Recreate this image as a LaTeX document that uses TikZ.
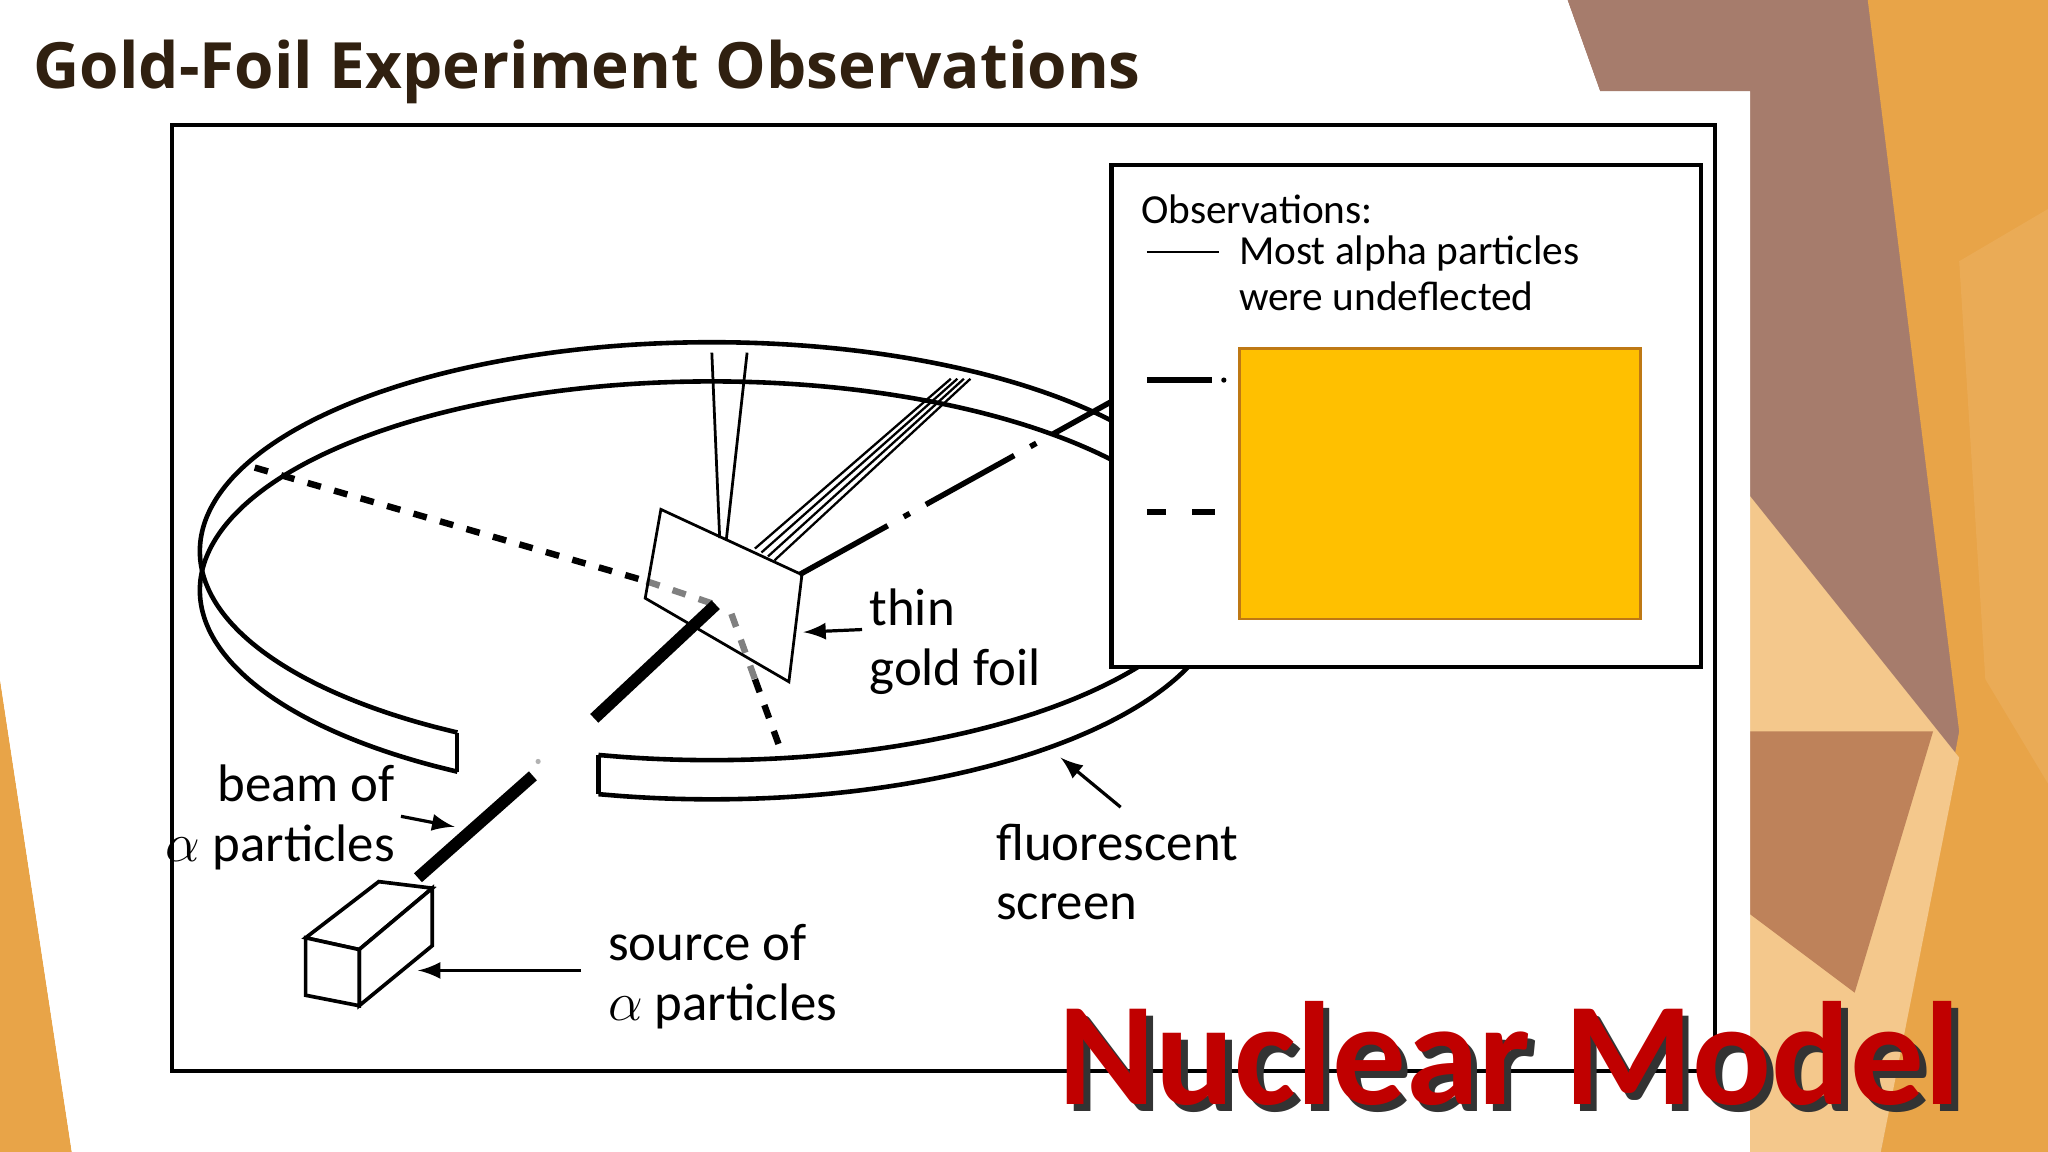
\documentclass[tikz,border=0pt]{standalone}
\usepackage{fontspec}
\setmainfont{Carlito}
\newfontfamily\titlefont{Open Sans}
\definecolor{bgbrown}{RGB}{166,124,108}
\definecolor{bgorange}{RGB}{232,164,72}
\definecolor{bglight}{RGB}{244,200,140}
\definecolor{bgdark}{RGB}{190,130,90}
\begin{document}
\begin{tikzpicture}[x=0.01cm,y=-0.01cm,
  lbl/.style={font=\fontsize{11.5}{13}\selectfont,align=left,inner sep=0},
  obs/.style={font=\fontsize{9}{10}\selectfont,anchor=west,inner sep=0},
  ring/.style={line width=1pt},
  arr/.style={-latex,line width=0.7pt}]
\useasboundingbox (0,0) rectangle (1568,882);
\fill[white] (0,0) rectangle (1568,882);
% background decoration
\fill[bgbrown] (1200,0)--(1568,0)--(1568,882)--(1340,882)--(1340,70)--(1225,70)--cycle;
\fill[bgorange] (1430,0)--(1568,0)--(1568,882)--(1440,882)--(1500,560)--cycle;
\fill[bglight] (1340,380)--(1500,580)--(1440,882)--(1340,882)--cycle;
\fill[bgdark] (1340,560)--(1480,560)--(1420,760)--(1340,700)--cycle;
\fill[bgorange!80!bglight] (1500,200)--(1568,160)--(1568,600)--(1520,520)--cycle;
\fill[bgorange] (0,520)--(55,882)--(0,882)--cycle;
\fill[bgbrown] (1150,842)--(1340,842)--(1340,882)--(1150,882)--cycle;
\fill[white] (0,0)--(1200,0)--(1225,70)--(1340,70)--(1340,842)--(55,882)--(55,882)--(0,520)--cycle;
\fill[white] (55,842) rectangle (1340,882);
\node[anchor=base west,inner sep=0,text=black!75!brown,font=\titlefont\bfseries\fontsize{13.9}{16}\selectfont] (title) at (25,68) {Gold-Foil Experiment Observations};
% frame
\draw[line width=0.9pt] (132,96) rectangle (1313,820);
% ring
\draw[ring] plot[domain=119.8:462.8,samples=120,smooth] ({545+392*cos(\x)},{422+160*sin(\x)});
\draw[ring] plot[domain=119.8:462.8,samples=120,smooth] ({545+392*cos(\x)},{452+160*sin(\x)});
\draw[ring] (350,561)--(350,591);
\draw[ring] (458,578)--(458,608);
% trajectories
\draw[line width=0.6pt] (545,270)--(551,412) (572,270)--(556,414);
\foreach \d in {0,5,10,15} \draw[line width=0.5pt] (578+\d,420+\d*0.6)--(728+\d,290);
\draw[line width=1.2pt,dash pattern=on 22pt off 4pt on 1.5pt off 4pt] (612,440)--(850,308);
\draw[line width=1.4pt,dash pattern=on 3pt off 3pt] (195,358)--(495,445);
\draw[line width=1.4pt,dash pattern=on 3pt off 3pt,gray] (495,445)--(548,463);
\draw[line width=1.4pt,dash pattern=on 3pt off 3pt,gray] (560,470)--(578,520);
\draw[line width=1.4pt,dash pattern=on 3pt off 3pt] (578,520)--(598,575);
% foil
\draw[line width=0.6pt] (506,390)--(614,440)--(604,522)--(494,458)--cycle;
% beam
\draw[line width=2.6pt] (455,550)--(548,463);
\draw[line width=2.6pt] (320,672)--(408,594);
\fill[gray!60] (412,583) circle (2);
% source
\draw[line width=0.8pt,fill=white] (234,718)--(290,675)--(331,680)--(275,727)--cycle;
\draw[line width=0.8pt,fill=white] (275,727)--(331,680)--(331,724)--(275,770)--cycle;
\draw[line width=0.8pt,fill=white] (234,718)--(275,727)--(275,770)--(234,762)--cycle;
\coordinate (src) at (320,743);
% labels
\node[lbl,anchor=north west] (foil) at (665,450) {thin\\gold foil};
\draw[arr] (660,482)--(615,484);
\node[lbl,anchor=north west] (screen) at (762,630) {fluorescent\\screen};
\draw[arr] (858,618)--(812,580);
\node[lbl,anchor=north east,align=right] (beam) at (303,585) {beam of\\$\alpha$ particles};
\draw[arr] (307,625)--(348,633);
\node[lbl,anchor=north west] (source) at (465,707) {source of\\$\alpha$ particles};
\draw[arr] (445,743)--(src);
% observations box
\draw[line width=0.9pt,fill=white] (851,126) rectangle (1302,511);
\node[obs] (o1) at (873,160) {Observations:};
\draw[line width=0.6pt] (878,193)--(933,193);
\node[obs] (o2) at (948,194) {Most alpha particles};
\node[obs] (o3) at (948,227) {were undeflected};
\draw[line width=1.2pt] (878,291)--(928,291);
\fill (937,291) circle (2);
\draw[line width=1.2pt] (878,392)--(893,392) (913,392)--(930,392);
\draw[fill={rgb,255:red,255;green,192;blue,0},draw={rgb,255:red,190;green,120;blue,20},line width=0.6pt] (949,267) rectangle (1256,474);
% big title
\node[anchor=base west,inner sep=0,text=black!80,font=\bfseries\fontsize{32}{34}\selectfont] at (815,851) {Nuclear Model};
\node[anchor=base west,inner sep=0,text={rgb,255:red,192;green,0;blue,0},font=\bfseries\fontsize{32}{34}\selectfont] (nm) at (810,846) {Nuclear Model};
\end{tikzpicture}
\end{document}
